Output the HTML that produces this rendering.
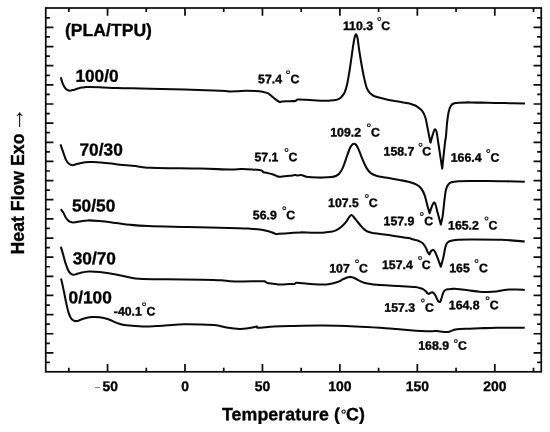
<!DOCTYPE html>
<html lang="en"><head><meta charset="utf-8">
<title>DSC thermograms of PLA/TPU blends</title>
<style>
html,body{margin:0;padding:0;background:#fff;}
body{width:550px;height:432px;overflow:hidden;}
svg{display:block;}
text{font-family:'Liberation Sans', Arial, Helvetica, sans-serif;font-weight:bold;fill:#000;stroke:#000;stroke-width:0.35px;}
.ax{stroke:#0a0a0a;stroke-width:1.72;fill:none;stroke-linecap:butt;}
.cv{stroke:#0a0a0a;stroke-width:2.05;fill:none;stroke-linejoin:round;stroke-linecap:butt;}
.lb{font-size:17px;}
.sm{font-size:12.3px;}
.dg{font-size:12.7px;font-weight:normal;stroke-width:0.2px;}
.tk{font-size:13.9px;text-anchor:middle;}
.thin{font-weight:normal;fill:#666;stroke:none;}
</style></head><body>
<svg width="550" height="432" viewBox="0 0 550 432">
<rect width="550" height="432" fill="#fff"/>
<rect class="ax" x="45.75" y="8.00" width="495.50" height="363.80"/>
<path class="ax" d="M45.75 17.82h4.10M541.25 17.82h-4.10M45.75 27.40h7.70M541.25 27.40h-7.70M45.75 36.97h4.10M541.25 36.97h-4.10M45.75 46.54h7.70M541.25 46.54h-7.70M45.75 56.12h4.10M541.25 56.12h-4.10M45.75 65.69h7.70M541.25 65.69h-7.70M45.75 75.27h4.10M541.25 75.27h-4.10M45.75 84.84h7.70M541.25 84.84h-7.70M45.75 94.41h4.10M541.25 94.41h-4.10M45.75 103.99h7.70M541.25 103.99h-7.70M45.75 113.56h4.10M541.25 113.56h-4.10M45.75 123.13h7.70M541.25 123.13h-7.70M45.75 132.71h4.10M541.25 132.71h-4.10M45.75 142.28h7.70M541.25 142.28h-7.70M45.75 151.86h4.10M541.25 151.86h-4.10M45.75 161.43h7.70M541.25 161.43h-7.70M45.75 171.00h4.10M541.25 171.00h-4.10M45.75 180.58h7.70M541.25 180.58h-7.70M45.75 190.15h4.10M541.25 190.15h-4.10M45.75 199.72h7.70M541.25 199.72h-7.70M45.75 209.30h4.10M541.25 209.30h-4.10M45.75 218.87h7.70M541.25 218.87h-7.70M45.75 228.44h4.10M541.25 228.44h-4.10M45.75 238.02h7.70M541.25 238.02h-7.70M45.75 247.59h4.10M541.25 247.59h-4.10M45.75 257.17h7.70M541.25 257.17h-7.70M45.75 266.74h4.10M541.25 266.74h-4.10M45.75 276.31h7.70M541.25 276.31h-7.70M45.75 285.89h4.10M541.25 285.89h-4.10M45.75 295.46h7.70M541.25 295.46h-7.70M45.75 305.03h4.10M541.25 305.03h-4.10M45.75 314.61h7.70M541.25 314.61h-7.70M45.75 324.18h4.10M541.25 324.18h-4.10M45.75 333.76h7.70M541.25 333.76h-7.70M45.75 343.33h4.10M541.25 343.33h-4.10M45.75 352.90h7.70M541.25 352.90h-7.70M45.75 362.48h4.10M541.25 362.48h-4.10M68.83 371.80v-4.10M68.83 8.00v4.10M107.55 371.80v-7.70M107.55 8.00v7.70M146.28 371.80v-4.10M146.28 8.00v4.10M185.00 371.80v-7.70M185.00 8.00v7.70M223.72 371.80v-4.10M223.72 8.00v4.10M262.45 371.80v-7.70M262.45 8.00v7.70M301.18 371.80v-4.10M301.18 8.00v4.10M339.90 371.80v-7.70M339.90 8.00v7.70M378.62 371.80v-4.10M378.62 8.00v4.10M417.35 371.80v-7.70M417.35 8.00v7.70M456.07 371.80v-4.10M456.07 8.00v4.10M494.80 371.80v-7.70M494.80 8.00v7.70M533.52 371.80v-4.10M533.52 8.00v4.10"/>
<path class="cv" d="M60.80 77.30 C61.08 78.27 61.80 81.35 62.50 83.10 C63.20 84.85 64.20 86.67 65.00 87.80 C65.80 88.93 66.53 89.42 67.30 89.90 C68.07 90.38 68.57 90.70 69.60 90.70 C70.63 90.70 72.13 90.25 73.50 89.90 C74.87 89.55 76.38 88.98 77.80 88.60 C79.22 88.22 80.55 87.85 82.00 87.60 C83.45 87.35 83.57 87.15 86.50 87.10 C89.43 87.05 94.68 87.15 99.60 87.30 C104.52 87.45 110.93 87.83 116.00 88.00 C121.07 88.17 124.33 88.17 130.00 88.30 C135.67 88.43 140.83 88.58 150.00 88.80 C159.17 89.02 173.17 89.28 185.00 89.60 C196.83 89.92 213.50 90.40 221.00 90.70 C228.50 91.00 227.17 91.32 230.00 91.40 C232.83 91.48 235.33 91.30 238.00 91.20 C240.67 91.10 243.17 90.83 246.00 90.80 C248.83 90.77 252.22 90.83 255.00 91.00 C257.78 91.17 260.50 91.40 262.70 91.80 C264.90 92.20 266.38 92.40 268.20 93.40 C270.02 94.40 271.78 96.42 273.60 97.80 C275.42 99.18 277.62 101.08 279.10 101.70 C280.58 102.32 280.68 101.58 282.50 101.50 C284.32 101.42 287.83 101.30 290.00 101.20 C292.17 101.10 294.23 101.17 295.50 100.90 C296.77 100.63 295.78 99.78 297.60 99.60 C299.42 99.42 302.22 99.62 306.40 99.80 C310.58 99.98 318.77 100.57 322.70 100.70 C326.63 100.83 327.82 100.70 330.00 100.60 C332.18 100.50 334.30 100.40 335.80 100.10 C337.30 99.80 338.08 99.30 339.00 98.80 C339.92 98.30 340.38 98.10 341.30 97.10 C342.22 96.10 343.57 94.77 344.50 92.80 C345.43 90.83 346.13 88.52 346.90 85.30 C347.67 82.08 348.40 77.68 349.10 73.50 C349.80 69.32 350.47 64.55 351.10 60.20 C351.73 55.85 352.33 51.10 352.90 47.40 C353.47 43.70 353.98 40.18 354.50 38.00 C355.02 35.82 355.50 34.30 356.00 34.30 C356.50 34.30 357.03 35.82 357.50 38.00 C357.97 40.18 358.20 43.40 358.80 47.40 C359.40 51.40 360.25 57.08 361.10 62.00 C361.95 66.92 362.97 72.60 363.90 76.90 C364.83 81.20 365.68 85.08 366.70 87.80 C367.72 90.52 368.95 91.92 370.00 93.20 C371.05 94.48 371.70 94.82 373.00 95.50 C374.30 96.18 375.18 96.57 377.80 97.30 C380.42 98.03 385.07 99.15 388.70 99.90 C392.33 100.65 396.33 101.23 399.60 101.80 C402.87 102.37 406.07 102.82 408.30 103.30 C410.53 103.78 411.63 104.22 413.00 104.70 C414.37 105.18 415.00 105.20 416.50 106.20 C418.00 107.20 420.53 108.85 422.00 110.70 C423.47 112.55 424.40 114.57 425.30 117.30 C426.20 120.03 426.77 124.02 427.40 127.10 C428.03 130.18 428.58 133.22 429.10 135.80 C429.62 138.38 430.27 141.47 430.50 142.60 L430.50 142.60 C430.82 141.48 431.82 137.87 432.40 135.90 C432.98 133.93 433.52 131.90 434.00 130.80 C434.48 129.70 434.87 129.10 435.30 129.30 C435.73 129.50 436.08 129.63 436.60 132.00 C437.12 134.37 437.47 137.40 438.40 143.50 C439.33 149.60 441.57 164.42 442.20 168.60 L442.20 168.60 C442.65 164.42 444.27 148.97 444.90 143.50 C445.53 138.03 445.63 139.27 446.00 135.80 C446.37 132.33 446.65 126.70 447.10 122.70 C447.55 118.70 448.07 114.62 448.70 111.80 C449.33 108.98 450.08 107.18 450.90 105.80 C451.72 104.42 452.25 104.02 453.60 103.50 C454.95 102.98 456.27 102.88 459.00 102.70 C461.73 102.52 465.17 102.38 470.00 102.40 C474.83 102.42 482.17 102.68 488.00 102.80 C493.83 102.92 498.83 102.98 505.00 103.10 C511.17 103.22 521.67 103.43 525.00 103.50"/>
<path class="cv" d="M60.50 144.30 C60.93 145.57 62.18 149.30 63.10 151.90 C64.02 154.50 65.02 157.92 66.00 159.90 C66.98 161.88 67.90 162.90 69.00 163.80 C70.10 164.70 71.15 165.30 72.60 165.30 C74.05 165.30 75.63 164.32 77.70 163.80 C79.77 163.28 82.33 162.48 85.00 162.20 C87.67 161.92 89.82 161.93 93.70 162.10 C97.58 162.27 103.43 162.72 108.30 163.20 C113.17 163.68 117.95 164.47 122.90 165.00 C127.85 165.53 133.40 165.95 138.00 166.40 C142.60 166.85 140.17 167.33 150.50 167.70 C160.83 168.07 186.75 168.30 200.00 168.60 C213.25 168.90 223.17 169.42 230.00 169.50 C236.83 169.58 237.33 169.12 241.00 169.10 C244.67 169.08 248.75 169.20 252.00 169.40 C255.25 169.60 258.77 170.03 260.50 170.30 C262.23 170.57 261.88 170.67 262.40 171.00 C262.92 171.33 263.00 172.03 263.60 172.30 C264.20 172.57 264.52 172.28 266.00 172.60 C267.48 172.92 270.67 173.60 272.50 174.20 C274.33 174.80 275.82 175.78 277.00 176.20 C278.18 176.62 278.35 176.70 279.60 176.70 C280.85 176.70 282.77 176.35 284.50 176.20 C286.23 176.05 288.27 175.98 290.00 175.80 C291.73 175.62 293.63 175.17 294.90 175.10 C296.17 175.03 296.60 175.40 297.60 175.40 C298.60 175.40 299.98 175.08 300.90 175.10 C301.82 175.12 302.18 175.22 303.10 175.50 C304.02 175.78 304.95 176.50 306.40 176.80 C307.85 177.10 309.08 177.17 311.80 177.30 C314.52 177.43 319.43 177.63 322.70 177.60 C325.97 177.57 329.22 177.37 331.40 177.10 C333.58 176.83 334.52 176.55 335.80 176.00 C337.08 175.45 338.02 174.98 339.10 173.80 C340.18 172.62 341.40 170.63 342.30 168.90 C343.20 167.17 343.72 165.55 344.50 163.40 C345.28 161.25 346.07 158.62 347.00 156.00 C347.93 153.38 349.22 149.60 350.10 147.70 C350.98 145.80 351.62 145.25 352.30 144.60 C352.98 143.95 353.55 143.73 354.20 143.80 C354.85 143.87 355.47 144.08 356.20 145.00 C356.93 145.92 357.58 146.98 358.60 149.30 C359.62 151.62 360.98 155.80 362.30 158.90 C363.62 162.00 365.08 165.52 366.50 167.90 C367.92 170.28 368.92 171.82 370.80 173.20 C372.68 174.58 374.82 175.38 377.80 176.20 C380.78 177.02 385.07 177.47 388.70 178.10 C392.33 178.73 396.33 179.38 399.60 180.00 C402.87 180.62 405.48 181.03 408.30 181.80 C411.12 182.57 414.35 183.48 416.50 184.60 C418.65 185.72 419.85 186.75 421.20 188.50 C422.55 190.25 423.60 192.37 424.60 195.10 C425.60 197.83 426.37 201.88 427.20 204.90 C428.03 207.92 429.20 211.82 429.60 213.20 L429.60 213.20 C430.00 212.00 431.27 207.78 432.00 206.00 C432.73 204.22 433.42 202.75 434.00 202.50 C434.58 202.25 434.95 203.02 435.50 204.50 C436.05 205.98 436.42 208.05 437.30 211.40 C438.18 214.75 440.22 222.40 440.80 224.60 L440.80 224.60 C441.12 223.13 442.10 219.82 442.70 215.80 C443.30 211.78 443.85 204.87 444.40 200.50 C444.95 196.13 445.37 192.23 446.00 189.60 C446.63 186.97 447.30 185.93 448.20 184.70 C449.10 183.47 449.60 182.78 451.40 182.20 C453.20 181.62 455.90 181.42 459.00 181.20 C462.10 180.98 463.17 180.90 470.00 180.90 C476.83 180.90 490.88 181.07 500.00 181.20 C509.12 181.33 520.62 181.62 524.75 181.70"/>
<path class="cv" d="M60.80 209.10 C61.23 209.72 62.55 211.35 63.40 212.80 C64.25 214.25 65.03 216.45 65.90 217.80 C66.77 219.15 67.78 220.20 68.60 220.90 C69.42 221.60 70.10 221.75 70.80 222.00 C71.50 222.25 72.07 222.35 72.80 222.40 C73.53 222.45 74.13 222.43 75.20 222.30 C76.27 222.17 77.08 221.92 79.20 221.60 C81.32 221.28 84.50 220.48 87.90 220.40 C91.30 220.32 94.92 220.67 99.60 221.10 C104.28 221.53 110.93 222.38 116.00 223.00 C121.07 223.62 124.62 224.30 130.00 224.80 C135.38 225.30 138.60 225.63 148.30 226.00 C158.00 226.37 173.18 226.63 188.20 227.00 C203.22 227.37 228.10 227.92 238.40 228.20 C248.70 228.48 246.42 228.48 250.00 228.70 C253.58 228.92 257.17 229.15 259.90 229.50 C262.63 229.85 264.22 230.25 266.40 230.80 C268.58 231.35 271.35 232.25 273.00 232.80 C274.65 233.35 275.35 233.93 276.30 234.10 C277.25 234.27 276.25 234.00 278.70 233.80 C281.15 233.60 287.30 233.13 291.00 232.90 C294.70 232.67 297.43 232.43 300.90 232.40 C304.37 232.37 308.17 232.65 311.80 232.70 C315.43 232.75 319.62 232.85 322.70 232.70 C325.78 232.55 328.10 232.18 330.30 231.80 C332.50 231.42 334.05 231.23 335.90 230.40 C337.75 229.57 339.67 228.27 341.40 226.80 C343.13 225.33 345.00 223.23 346.30 221.60 C347.60 219.97 348.35 218.12 349.20 217.00 C350.05 215.88 350.65 214.90 351.40 214.90 C352.15 214.90 352.80 216.02 353.70 217.00 C354.60 217.98 355.53 219.23 356.80 220.80 C358.07 222.37 360.07 224.97 361.30 226.40 C362.53 227.83 363.17 228.55 364.20 229.40 C365.23 230.25 366.13 230.92 367.50 231.50 C368.87 232.08 370.32 232.50 372.40 232.90 C374.48 233.30 377.28 233.53 380.00 233.90 C382.72 234.27 385.43 234.63 388.70 235.10 C391.97 235.57 396.33 236.20 399.60 236.70 C402.87 237.20 406.07 237.67 408.30 238.10 C410.53 238.53 411.58 238.93 413.00 239.30 C414.42 239.67 415.63 239.92 416.80 240.30 C417.97 240.68 419.03 241.13 420.00 241.60 C420.97 242.07 421.67 242.15 422.60 243.10 C423.53 244.05 424.75 245.82 425.60 247.30 C426.45 248.78 427.07 250.82 427.70 252.00 C428.33 253.18 429.12 254.00 429.40 254.40 L429.40 254.40 C429.70 253.83 430.58 251.78 431.20 251.00 C431.82 250.22 432.50 249.62 433.10 249.70 C433.70 249.78 434.20 250.50 434.80 251.50 C435.40 252.50 435.70 253.15 436.70 255.70 C437.70 258.25 440.12 264.95 440.80 266.80 L440.80 266.80 C441.23 265.22 442.70 260.30 443.40 257.30 C444.10 254.30 444.47 251.07 445.00 248.80 C445.53 246.53 445.85 244.97 446.60 243.70 C447.35 242.43 447.97 241.83 449.50 241.20 C451.03 240.57 452.38 240.18 455.80 239.90 C459.22 239.62 462.38 239.52 470.00 239.50 C477.62 239.48 492.38 239.47 501.50 239.80 C510.62 240.13 520.88 241.22 524.75 241.50"/>
<path class="cv" d="M60.80 246.70 C61.18 247.98 62.30 251.62 63.10 254.40 C63.90 257.18 64.75 260.77 65.60 263.40 C66.45 266.03 67.37 268.52 68.20 270.20 C69.03 271.88 69.73 272.75 70.60 273.50 C71.47 274.25 72.47 274.58 73.40 274.70 C74.33 274.82 75.10 274.50 76.20 274.20 C77.30 273.90 77.92 273.35 80.00 272.90 C82.08 272.45 85.43 271.65 88.70 271.50 C91.97 271.35 95.05 271.52 99.60 272.00 C104.15 272.48 110.93 273.50 116.00 274.40 C121.07 275.30 126.17 276.68 130.00 277.40 C133.83 278.12 132.90 278.38 139.00 278.70 C145.10 279.02 155.93 279.13 166.60 279.30 C177.27 279.47 193.87 279.53 203.00 279.70 C212.13 279.87 216.90 280.05 221.40 280.30 C225.90 280.55 226.38 281.02 230.00 281.20 C233.62 281.38 237.65 281.40 243.10 281.40 C248.55 281.40 258.98 281.13 262.70 281.20 C266.42 281.27 264.58 281.50 265.40 281.80 C266.22 282.10 266.23 282.68 267.60 283.00 C268.97 283.32 271.87 283.47 273.60 283.70 C275.33 283.93 276.55 284.28 278.00 284.40 C279.45 284.52 280.30 284.47 282.30 284.40 C284.30 284.33 288.00 284.05 290.00 284.00 C292.00 283.95 293.17 284.30 294.30 284.10 C295.43 283.90 294.60 282.85 296.80 282.80 C299.00 282.75 303.80 283.53 307.50 283.80 C311.20 284.07 315.57 284.32 319.00 284.40 C322.43 284.48 325.13 284.65 328.10 284.30 C331.07 283.95 334.33 283.13 336.80 282.30 C339.27 281.47 341.20 280.10 342.90 279.30 C344.60 278.50 345.88 277.90 347.00 277.50 C348.12 277.10 348.77 276.93 349.60 276.90 C350.43 276.87 351.05 277.03 352.00 277.30 C352.95 277.57 353.93 277.85 355.30 278.50 C356.67 279.15 358.73 280.48 360.20 281.20 C361.67 281.92 362.63 282.37 364.10 282.80 C365.57 283.23 366.87 283.47 369.00 283.80 C371.13 284.13 371.95 284.43 376.90 284.80 C381.85 285.17 392.33 285.62 398.70 286.00 C405.07 286.38 411.47 286.72 415.10 287.10 C418.73 287.48 419.25 288.00 420.50 288.30 C421.75 288.60 421.77 288.45 422.60 288.90 C423.43 289.35 424.68 290.28 425.50 291.00 C426.32 291.72 426.92 292.70 427.50 293.20 C428.08 293.70 428.75 293.87 429.00 294.00 L429.00 294.00 C429.25 293.82 429.98 293.20 430.50 292.90 C431.02 292.60 431.55 292.15 432.10 292.20 C432.65 292.25 433.23 292.65 433.80 293.20 C434.37 293.75 434.90 294.40 435.50 295.50 C436.10 296.60 436.88 298.80 437.40 299.80 C437.92 300.80 438.23 301.15 438.60 301.50 C438.97 301.85 439.27 301.95 439.60 301.90 C439.93 301.85 440.23 301.98 440.60 301.20 C440.97 300.42 441.40 298.50 441.80 297.20 C442.20 295.90 442.53 294.50 443.00 293.40 C443.47 292.30 443.88 291.28 444.60 290.60 C445.32 289.92 446.17 289.58 447.30 289.30 C448.43 289.02 449.78 288.97 451.40 288.90 C453.02 288.83 454.22 288.67 457.00 288.90 C459.78 289.13 464.33 289.82 468.10 290.30 C471.87 290.78 476.28 291.52 479.60 291.80 C482.92 292.08 485.27 292.05 488.00 292.00 C490.73 291.95 493.50 291.78 496.00 291.50 C498.50 291.22 500.80 290.62 503.00 290.30 C505.20 289.98 507.03 289.73 509.20 289.60 C511.37 289.47 513.41 289.45 516.00 289.50 C518.59 289.55 523.29 289.83 524.75 289.90"/>
<path class="cv" d="M61.00 278.60 C61.18 279.33 61.57 280.62 62.10 283.00 C62.63 285.38 63.48 289.43 64.20 292.90 C64.92 296.37 65.63 300.38 66.40 303.80 C67.17 307.22 67.98 310.93 68.80 313.40 C69.62 315.87 70.47 317.38 71.30 318.60 C72.13 319.82 72.98 320.28 73.80 320.70 C74.62 321.12 75.33 321.13 76.20 321.10 C77.07 321.07 77.82 320.90 79.00 320.50 C80.18 320.10 81.13 319.27 83.30 318.70 C85.47 318.13 89.28 317.33 92.00 317.10 C94.72 316.87 96.88 316.93 99.60 317.30 C102.32 317.67 105.57 318.42 108.30 319.30 C111.03 320.18 113.88 321.78 116.00 322.60 C118.12 323.42 119.27 323.75 121.00 324.20 C122.73 324.65 122.77 324.92 126.40 325.30 C130.03 325.68 137.87 326.37 142.80 326.50 C147.73 326.63 151.88 326.30 156.00 326.10 C160.12 325.90 162.85 325.60 167.50 325.30 C172.15 325.00 178.48 324.43 183.90 324.30 C189.32 324.17 194.58 324.33 200.00 324.50 C205.42 324.67 212.02 324.82 216.40 325.30 C220.78 325.78 222.47 326.80 226.30 327.40 C230.13 328.00 235.57 328.78 239.40 328.90 C243.23 329.02 246.42 328.48 249.30 328.10 C252.18 327.72 255.20 326.67 256.70 326.60 C258.20 326.53 255.43 327.72 258.30 327.70 C261.17 327.68 268.62 326.78 273.90 326.50 C279.18 326.22 281.85 326.15 290.00 326.00 C298.15 325.85 311.85 325.52 322.80 325.60 C333.75 325.68 346.17 326.13 355.70 326.50 C365.23 326.87 373.22 327.37 380.00 327.80 C386.78 328.23 391.40 328.68 396.40 329.10 C401.40 329.52 405.90 329.98 410.00 330.30 C414.10 330.62 417.33 330.85 421.00 331.00 C424.67 331.15 429.28 331.20 432.00 331.20 C434.72 331.20 435.52 330.90 437.30 331.00 C439.08 331.10 441.08 331.63 442.70 331.80 C444.32 331.97 445.75 332.08 447.00 332.00 C448.25 331.92 449.10 331.63 450.20 331.30 C451.30 330.97 452.47 330.35 453.60 330.00 C454.73 329.65 454.27 329.42 457.00 329.20 C459.73 328.98 466.17 328.85 470.00 328.70 C473.83 328.55 475.58 328.47 480.00 328.30 C484.42 328.13 489.04 327.78 496.50 327.70 C503.96 327.62 520.04 327.78 524.75 327.80"/>
<text transform="translate(65.00 35.90) rotate(0.04)" style="font-size:17.6px">(PLA/TPU)</text>
<text transform="translate(75.40 81.80) rotate(0.04)" style="font-size:17.3px">100/0</text>
<text transform="translate(79.50 155.60) rotate(0.04)" style="font-size:17.3px">70/30</text>
<text transform="translate(72.00 211.50) rotate(0.04)" style="font-size:17.3px">50/50</text>
<text transform="translate(72.70 264.30) rotate(0.04)" style="font-size:17.3px">30/70</text>
<text transform="translate(68.60 303.30) rotate(0.04)" style="font-size:17.3px">0/100</text>
<text transform="translate(258.05 83.20) rotate(0.04)" class="sm">57.4</text><text transform="translate(285.61 79.20) rotate(0.04)" class="dg">°</text><text transform="translate(290.45 83.20) rotate(0.04)" class="sm">C</text>
<text transform="translate(342.95 30.10) rotate(0.04)" class="sm">110.3</text><text transform="translate(376.71 26.10) rotate(0.04)" class="dg">°</text><text transform="translate(381.35 30.10) rotate(0.04)" class="sm">C</text>
<text transform="translate(254.45 161.30) rotate(0.04)" class="sm">57.1</text><text transform="translate(284.06 157.10) rotate(0.04)" class="dg">°</text><text transform="translate(288.55 161.30) rotate(0.04)" class="sm">C</text>
<text transform="translate(330.25 136.40) rotate(0.04)" class="sm">109.2</text><text transform="translate(366.16 132.20) rotate(0.04)" class="dg">°</text><text transform="translate(371.05 136.40) rotate(0.04)" class="sm">C</text>
<text transform="translate(383.55 155.60) rotate(0.04)" class="sm">158.7</text><text transform="translate(417.96 151.70) rotate(0.04)" class="dg">°</text><text transform="translate(422.35 155.60) rotate(0.04)" class="sm">C</text>
<text transform="translate(450.75 161.75) rotate(0.04)" class="sm">166.4</text><text transform="translate(485.86 158.00) rotate(0.04)" class="dg">°</text><text transform="translate(490.45 161.75) rotate(0.04)" class="sm">C</text>
<text transform="translate(252.85 219.30) rotate(0.04)" class="sm">56.9</text><text transform="translate(281.86 215.20) rotate(0.04)" class="dg">°</text><text transform="translate(286.35 219.30) rotate(0.04)" class="sm">C</text>
<text transform="translate(328.05 207.00) rotate(0.04)" class="sm">107.5</text><text transform="translate(364.16 202.90) rotate(0.04)" class="dg">°</text><text transform="translate(368.85 207.00) rotate(0.04)" class="sm">C</text>
<text transform="translate(383.55 225.25) rotate(0.04)" class="sm">157.9</text><text transform="translate(419.26 221.00) rotate(0.04)" class="dg">°</text><text transform="translate(424.15 225.25) rotate(0.04)" class="sm">C</text>
<text transform="translate(448.05 229.60) rotate(0.04)" class="sm">165.2</text><text transform="translate(484.06 225.60) rotate(0.04)" class="dg">°</text><text transform="translate(488.45 229.60) rotate(0.04)" class="sm">C</text>
<text transform="translate(329.25 272.40) rotate(0.04)" class="sm">107</text><text transform="translate(354.46 268.20) rotate(0.04)" class="dg">°</text><text transform="translate(359.05 272.40) rotate(0.04)" class="sm">C</text>
<text transform="translate(381.95 269.00) rotate(0.04)" class="sm">157.4</text><text transform="translate(417.46 265.10) rotate(0.04)" class="dg">°</text><text transform="translate(421.85 269.00) rotate(0.04)" class="sm">C</text>
<text transform="translate(449.25 272.20) rotate(0.04)" class="sm">165</text><text transform="translate(474.06 268.10) rotate(0.04)" class="dg">°</text><text transform="translate(478.95 272.20) rotate(0.04)" class="sm">C</text>
<text transform="translate(113.80 315.40) rotate(0.04)" class="sm">-40.1</text><text transform="translate(141.46 311.30) rotate(0.04)" class="dg">°</text><text transform="translate(146.45 315.40) rotate(0.04)" class="sm">C</text>
<text transform="translate(384.35 311.65) rotate(0.04)" class="sm">157.3</text><text transform="translate(420.16 307.40) rotate(0.04)" class="dg">°</text><text transform="translate(424.95 311.65) rotate(0.04)" class="sm">C</text>
<text transform="translate(448.85 309.30) rotate(0.04)" class="sm">164.8</text><text transform="translate(485.06 305.20) rotate(0.04)" class="dg">°</text><text transform="translate(489.70 309.30) rotate(0.04)" class="sm">C</text>
<text transform="translate(418.25 349.70) rotate(0.04)" class="sm">168.9</text><text transform="translate(453.36 347.90) rotate(0.04)" class="dg">°</text><text transform="translate(458.05 349.70) rotate(0.04)" class="sm">C</text>
<text transform="translate(185.00 390.90) rotate(0.04)" class="tk">0</text>
<text transform="translate(262.45 390.90) rotate(0.04)" class="tk">50</text>
<text transform="translate(339.90 390.90) rotate(0.04)" class="tk">100</text>
<text transform="translate(417.35 390.90) rotate(0.04)" class="tk">150</text>
<text transform="translate(494.80 390.90) rotate(0.04)" class="tk">200</text>
<text transform="translate(110.15 390.90) rotate(0.04)" class="tk">50</text>
<text transform="translate(97.30 390.90) rotate(0.04)" class="tk thin" style="font-size:10px">−</text>
<text transform="translate(222.00 420.20) rotate(0.04)" style="font-size:17.75px;letter-spacing:0.07px">Temperature (</text><text transform="translate(340.64 419.40) rotate(0.04)" style="font-size:14.3px;font-weight:normal;stroke-width:0.2px">°</text><text transform="translate(346.10 420.20) rotate(0.04)" style="font-size:17.75px">C)</text>
<text transform="translate(23.80 254.40) rotate(-90.00)" style="font-size:17.7px">Heat Flow Exo</text>
<text transform="translate(24.30 132.00) rotate(-90.00)" style="font-size:25px;font-weight:normal;stroke:none">→</text>
</svg></body></html>
